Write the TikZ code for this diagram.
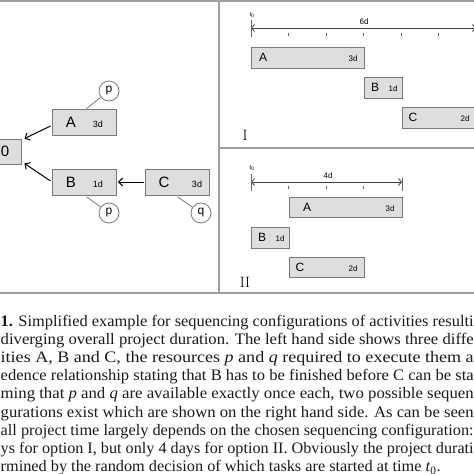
\documentclass[tikz,border=0pt]{standalone}
\usepackage{fontspec}
\usepackage{graphicx}
\setmainfont{Liberation Serif}
\newfontfamily\diagfont{Liberation Sans}
\usetikzlibrary{arrows.meta,calc}
\definecolor{boxfill}{HTML}{DEDEDE}
\definecolor{boxedge}{HTML}{7A7A7A}
\definecolor{divider}{HTML}{9E9E9E}
\definecolor{captext}{HTML}{1A1A1A}
\tikzset{
  taskbox/.style={draw=boxedge, fill=boxfill, line width=0.9pt, inner sep=0pt},
  bigname/.style={inner sep=0pt, font=\diagfont\fontsize{15}{15}\selectfont},
  bigdur/.style={inner sep=0pt, font=\diagfont\fontsize{9}{9}\selectfont},
  smallname/.style={inner sep=0pt, font=\diagfont\fontsize{12}{12}\selectfont},
  smalldur/.style={inner sep=0pt, font=\diagfont\fontsize{8}{8}\selectfont},
  resource/.style={draw=boxedge, fill=white, circle, line width=0.8pt, minimum size=20pt, inner sep=0pt, font=\diagfont\fontsize{12}{12}\selectfont},
  link/.style={draw=boxedge, line width=0.8pt},
  prec/.style={draw=black, line width=1pt, -{Straight Barb[length=4pt,width=8pt]}},
  axisline/.style={draw=black!75, line width=0.8pt, {Straight Barb[length=3pt,width=7pt]}-{Straight Barb[length=3pt,width=7pt]}},
  tickmark/.style={draw=black!60, line width=0.6pt},
  divline/.style={draw=divider, line width=1.4pt},
  roman/.style={inner sep=0pt, font=\fontfamily{lmr}\fontsize{15}{15}\selectfont},
  tlabel/.style={inner sep=0pt, font=\diagfont\fontsize{6}{6}\selectfont},
  caplinestyle/.style={anchor=base west, inner sep=0pt, text=captext, font=\fontsize{16}{18}\selectfont},
}
\newsavebox\capbox
\newcommand{\capline}[2]{\sbox\capbox{#2}\pgfmathsetmacro\capsx{#1/\the\wd\capbox}\scalebox{\capsx}[1]{\usebox\capbox}}
\begin{document}
\begin{tikzpicture}[x=1pt,y=-1pt]
\useasboundingbox (0,0) rectangle (474,474);
\clip (0,0) rectangle (474,474);
% frame lines
\draw[divider, line width=2.6pt] (0,1) -- (474,1);
\draw[divline] (219,0) -- (219,293);
\draw[divline] (219,148) -- (474,148);
\draw[divline] (0,293) -- (474,293);

% ---------- left panel ----------
\node[taskbox, minimum width=32pt, minimum height=25pt, font=\diagfont\fontsize{15}{15}\selectfont] (z) at (5,151.5) {0};
\node[taskbox, minimum width=64pt, minimum height=26pt] (A) at (84,122) {};
\node[taskbox, minimum width=64pt, minimum height=26pt] (B) at (84,182) {};
\node[taskbox, minimum width=64pt, minimum height=26pt] (C) at (177,182) {};
\node[bigname] (Aname) at (71,122) {A};
\node[bigdur]  (Adur) at (98,124) {3d};
\node[bigname] (Bname) at (71,182) {B};
\node[bigdur]  (Bdur) at (98,184) {1d};
\node[bigname] (Cname) at (164,182) {C};
\node[bigdur]  (Cdur) at (197,184) {3d};
\node[resource] (pA) at (109,91) {p};
\node[resource] (pB) at (109,213) {p};
\node[resource] (qC) at (201,213) {q};
\coordinate (Atop) at ($(A.north west)+(35,0)$);
\coordinate (Bbot) at ($(B.south west)+(35,1.5)$);
\coordinate (Cbot) at ($(C.south west)+(33,1.5)$);
\draw[link] (Atop) -- (pA);
\draw[link] (Bbot) -- (pB);
\draw[link] (Cbot) -- (qC);
\coordinate (Aout) at ($(A.west)+(-1,4)$);
\coordinate (zinA) at ($(z.north east)+(3,0)$);
\coordinate (Bout) at ($(B.west)+(-1,-1)$);
\coordinate (zinB) at ($(z.south east)+(3,-1)$);
\coordinate (Cout) at ($(C.west)+(-1,0)$);
\coordinate (Bin) at ($(B.east)+(1.5,0)$);
\draw[prec] (Aout) -- (zinA);
\draw[prec] (Bout) -- (zinB);
\draw[prec] (Cout) -- (Bin);

% ---------- right panel I ----------
\node[tlabel] (t0a) at (252,15) {t\textsubscript{0}};
\coordinate (ax1s) at (251,28);
\coordinate (ax1e) at (476,28);
\draw[axisline] (ax1s) -- (ax1e);
\draw[tickmark] (251,20) -- (251,37);
\foreach \k in {1,...,5} { \draw[tickmark] (251+\k*37.5,32.5) -- (251+\k*37.5,35.5); }
\node[smalldur] (d6) at (364,22) {6d};
\node[taskbox, minimum width=113pt, minimum height=21pt] (IA) at (307.5,57.5) {};
\node[taskbox, minimum width=38pt, minimum height=21pt] (IB) at (383,87.5) {};
\node[taskbox, minimum width=76pt, minimum height=21pt] (IC) at (440,117.5) {};
\node[smallname] (IAn) at (263,57.5) {A};
\node[smalldur]  (IAd) at (353,59) {3d};
\node[smallname] (IBn) at (375,87.5) {B};
\node[smalldur]  (IBd) at (393,89) {1d};
\node[smallname] (ICn) at (413,117.5) {C};
\node[smalldur]  (ICd) at (465,119) {2d};
\node[roman] (romI) at (245,135) {I};

% ---------- right panel II ----------
\node[tlabel] (t0b) at (252,168) {t\textsubscript{0}};
\coordinate (ax2s) at (251,182);
\coordinate (ax2e) at (402,182);
\draw[axisline] (ax2s) -- (ax2e);
\draw[tickmark] (251,174) -- (251,191);
\draw[tickmark] (402,178) -- (402,191);
\foreach \k in {1,...,3} { \draw[tickmark] (251+\k*37.5,186) -- (251+\k*37.5,189); }
\node[smalldur] (d4) at (328,176) {4d};
\node[taskbox, minimum width=113pt, minimum height=20pt] (IIA) at (345.5,207) {};
\node[taskbox, minimum width=38pt, minimum height=21pt] (IIB) at (270,237.5) {};
\node[taskbox, minimum width=75pt, minimum height=20pt] (IIC) at (326.5,267) {};
\node[smallname] (IIAn) at (307,207) {A};
\node[smalldur]  (IIAd) at (390,208.5) {3d};
\node[smallname] (IIBn) at (262,237.5) {B};
\node[smalldur]  (IIBd) at (280,239) {1d};
\node[smallname] (IICn) at (300,267) {C};
\node[smalldur]  (IICd) at (353,268.5) {2d};
\node[roman] (romII) at (245,282) {II};

% ---------- caption ----------
\node[caplinestyle] (cap1) at (0.5,326) {\capline{473pt}{\textbf{1.} Simplified example for sequencing configurations of activities resulti}};
\node[caplinestyle] (cap2) at (0.5,344.2) {\capline{473pt}{diverging overall project duration. The left hand side shows three diffe}};
\node[caplinestyle] (cap3) at (0.5,362.4) {\capline{473pt}{ities A, B and C, the resources \textit{p} and \textit{q} required to execute them a}};
\node[caplinestyle] (cap4) at (0.5,380.6) {\capline{473pt}{edence relationship stating that B has to be finished before C can be sta}};
\node[caplinestyle] (cap5) at (0.5,398.8) {\capline{473pt}{ming that \textit{p} and \textit{q} are available exactly once each, two possible sequen}};
\node[caplinestyle] (cap6) at (0.5,417) {\capline{473pt}{gurations exist which are shown on the right hand side. As can be seen}};
\node[caplinestyle] (cap7) at (0.5,435.2) {\capline{473pt}{all project time largely depends on the chosen sequencing configuration:}};
\node[caplinestyle] (cap8) at (0.5,453.4) {\capline{473pt}{ys for option I, but only 4 days for option II. Obviously the project durati}};
\node[caplinestyle] (cap9) at (0.5,471.6) {\capline{440pt}{rmined by the random decision of which tasks are started at time \textit{t}\textsubscript{0}.}};
\end{tikzpicture}
\end{document}
